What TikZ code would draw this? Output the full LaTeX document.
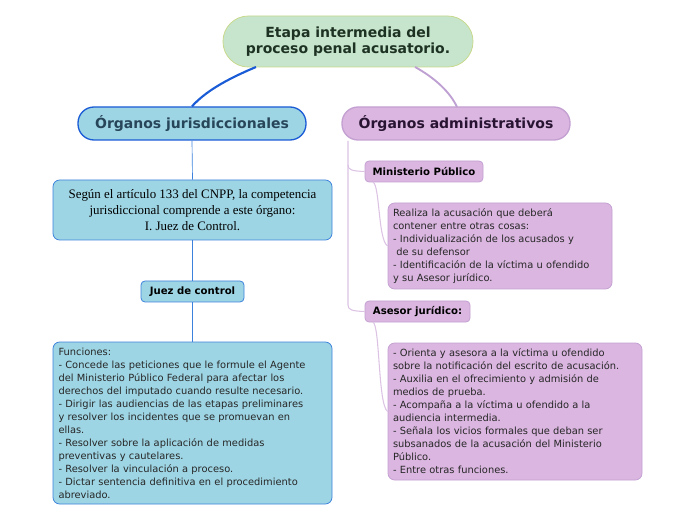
\documentclass[tikz,border=0pt]{standalone}
\usepackage{fontspec}
\setmainfont{DejaVu Sans}
\newfontfamily\serifx{Liberation Serif}
\begin{document}
\begin{tikzpicture}[x=0.75pt,y=-0.75pt,
  base/.style={draw, line width=0.6pt, rounded corners=5pt, inner sep=0pt},
  blue/.style={base, fill={rgb,255:red,158;green,213;blue,228}, draw={rgb,255:red,60;green,130;blue,220}},
  purp/.style={base, fill={rgb,255:red,218;green,182;blue,224}, draw={rgb,255:red,196;green,160;blue,210}},
  txt/.style={font=\fontsize{7.4pt}{9.75pt}\selectfont, align=left, text=black!85},
  bconn/.style={draw={rgb,255:red,60;green,130;blue,220}, line width=0.5pt},
  pconn/.style={draw={rgb,255:red,220;green,195;blue,228}, line width=0.8pt}]
\useasboundingbox (0,0) rectangle (696,520);
\node[base, rounded corners=19pt, fill={rgb,255:red,198;green,229;blue,204}, draw={rgb,255:red,200;green,217;blue,140}, minimum width=250*0.75pt, minimum height=51*0.75pt, font=\bfseries\fontsize{10.5pt}{12.5pt}\selectfont, align=center, text={rgb,255:red,30;green,50;blue,35}] (root) at (348,41.5) {Etapa intermedia del\\proceso penal acusatorio.};
\node[blue, line width=1pt, draw={rgb,255:red,26;green,91;blue,214}, rounded corners=12pt, minimum width=228*0.75pt, minimum height=33*0.75pt, font=\bfseries\fontsize{10.5pt}{12pt}\selectfont, text={rgb,255:red,40;green,70;blue,90}] (oj) at (192,123.5) {Órganos jurisdiccionales};
\node[purp, line width=1pt, rounded corners=12pt, minimum width=228*0.75pt, minimum height=33*0.75pt, font=\bfseries\fontsize{10.5pt}{12pt}\selectfont, text={rgb,255:red,40;green,20;blue,50}] (oa) at (456,123.5) {Órganos administrativos};
\node[blue, minimum width=279*0.75pt, minimum height=60*0.75pt, align=center, font=\serifx\fontsize{9.7pt}{12.2pt}\selectfont] (seg) at (192.5,210) {Según el artículo 133 del CNPP, la competencia\\jurisdiccional comprende a este órgano:\\I. Juez de Control.};
\node[blue, rounded corners=3pt, minimum width=103*0.75pt, minimum height=21*0.75pt, font=\bfseries\fontsize{7.6pt}{9.6pt}\selectfont] (juez) at (192.5,291.5) {Juez de control};
\node[blue, minimum width=279*0.75pt, minimum height=162*0.75pt, txt, text width=268*0.75pt] (fun) at (192.5,423) {Funciones:\\- Concede las peticiones que le formule el Agente\\del Ministerio Público Federal para afectar los\\derechos del imputado cuando resulte necesario.\\- Dirigir las audiencias de las etapas preliminares\\y resolver los incidentes que se promuevan en\\ellas.\\- Resolver sobre la aplicación de medidas\\preventivas y cautelares.\\- Resolver la vinculación a proceso.\\- Dictar sentencia definitiva en el procedimiento\\abreviado.};
\node[purp, rounded corners=3pt, minimum width=118*0.75pt, minimum height=21*0.75pt, font=\bfseries\fontsize{7.6pt}{9.6pt}\selectfont] (mp) at (424,171.5) {Ministerio Público};
\node[purp, minimum width=224*0.75pt, minimum height=86*0.75pt, txt, text width=214*0.75pt] (rea) at (500,246) {Realiza la acusación que deberá\\contener entre otras cosas:\\- Individualización de los acusados y\\\ de su defensor\\- Identificación de la víctima u ofendido\\y su Asesor jurídico.};
\node[purp, rounded corners=3pt, minimum width=105*0.75pt, minimum height=21*0.75pt, font=\bfseries\fontsize{7.6pt}{9.6pt}\selectfont] (ase) at (417.5,311.5) {Asesor jurídico:};
\node[purp, minimum width=254*0.75pt, minimum height=137*0.75pt, txt, text width=244*0.75pt] (ori) at (515,411.5) {- Orienta y asesora a la víctima u ofendido\\sobre la notificación del escrito de acusación.\\- Auxilia en el ofrecimiento y admisión de\\medios de prueba.\\- Acompaña a la víctima u ofendido a la\\audiencia intermedia.\\- Señala los vicios formales que deban ser\\subsanados de la acusación del Ministerio\\Público.\\- Entre otras funciones.};
% connectors
\draw[draw={rgb,255:red,26;green,91;blue,214}, line width=1.6pt] (256,67) .. controls (225,80) and (205,92) .. (oj.north);
\draw[draw={rgb,255:red,190;green,160;blue,210}, line width=1.4pt] (415,67) .. controls (435,78) and (450,92) .. (457,107);
\draw[bconn] (oj.south) -- (seg.north);
\draw[bconn] (seg.south) -- (juez.north);
\draw[bconn] (juez.south) -- (fun.north);
\draw[pconn] (348,141) -- (348,165) .. controls (348,170) and (352,171) .. (mp.west);
\draw[pconn] (348,165) -- (348,305) .. controls (348,310) and (352,311) .. (ase.west);
\draw[pconn] (373,182) .. controls (380,186) and (378,240) .. (rea.west);
\draw[pconn] (373,322) .. controls (380,326) and (378,405) .. (ori.west);
\end{tikzpicture}
\end{document}
